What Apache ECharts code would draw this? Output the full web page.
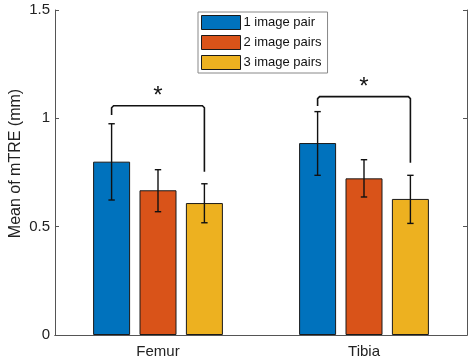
<!DOCTYPE html>
<html><head><meta charset="utf-8">
<script src="https://cdn.jsdelivr.net/npm/echarts@6/dist/echarts.min.js"></script>
<style>html,body{margin:0;padding:0;background:#fff}#c{width:474px;height:364px}</style>
</head><body><div id="c"></div>
<script>
const categories = ['Femur', 'Tibia'];
const seriesNames = ['1 image pair', '2 image pairs', '3 image pairs'];
const pair1 = [0.800, 0.886];
const pair2 = [0.668, 0.723];
const pair3 = [0.609, 0.628];
const pair1Low = [0.623, 0.737], pair1High = [0.975, 1.031];
const pair2Low = [0.569, 0.637], pair2High = [0.763, 0.809];
const pair3Low = [0.518, 0.515], pair3High = [0.698, 0.737];
const bracketTop = [1.058, 1.100];
const bracketLeftEnd = [1.015, 1.057];
const bracketRightEnd = [0.754, 0.795];
const starLabel = ['*', '*'];
const yTicks = [0, 0.5, 1, 1.5];

const colors = ['#0072BD', '#D95319', '#EDB120'];
const BAR_W = 37, GAP = 9.4, STEP = BAR_W + GAP;
const FONT = 'Liberation Sans, Arial, Helvetica, sans-serif';
const axisCol = '#555';

const values = [pair1, pair2, pair3];
const lows = [pair1Low, pair2Low, pair3Low];
const highs = [pair1High, pair2High, pair3High];

const barSeries = values.map((v, i) => ({
  name: seriesNames[i], type: 'bar', data: v, barWidth: BAR_W, barGap: (GAP / BAR_W * 100) + '%',
  itemStyle: { color: colors[i], borderColor: '#1a1a1a', borderWidth: 1 },
  emphasis: { disabled: true }, z: 2
}));

const errSeries = values.map((v, i) => ({
  type: 'custom', silent: true, z: 5,
  data: categories.map((c, k) => [k, lows[i][k], highs[i][k]]),
  renderItem: function (params, api) {
    const lo = api.coord([api.value(0), api.value(1)]);
    const hi = api.coord([api.value(0), api.value(2)]);
    const x = lo[0] + (i - 1) * STEP;
    const cap = 3.2;
    const st = { stroke: '#111', lineWidth: 1.4, fill: null };
    return { type: 'group', children: [
      { type: 'line', shape: { x1: x, y1: lo[1], x2: x, y2: hi[1] }, style: st },
      { type: 'line', shape: { x1: x - cap, y1: lo[1], x2: x + cap, y2: lo[1] }, style: st },
      { type: 'line', shape: { x1: x - cap, y1: hi[1], x2: x + cap, y2: hi[1] }, style: st }
    ]};
  }
}));

const bracketSeries = {
  type: 'custom', silent: true, z: 6,
  data: categories.map((c, k) => [k, bracketTop[k], bracketLeftEnd[k], bracketRightEnd[k]]),
  renderItem: function (params, api) {
    const k = api.value(0);
    const top = api.coord([k, api.value(1)]);
    const le = api.coord([k, api.value(2)]);
    const re = api.coord([k, api.value(3)]);
    const xl = top[0] - STEP, xr = top[0] + STEP;
    const r = 2;
    return { type: 'group', children: [
      { type: 'polyline', shape: { points: [[xl, le[1]], [xl, top[1] + r], [xl + r, top[1]], [xr - r, top[1]], [xr, top[1] + r], [xr, re[1]]] },
        style: { stroke: '#111', lineWidth: 1.6, fill: null } },
      { type: 'text', style: { text: starLabel[k], x: top[0], y: top[1] + 3, align: 'center', verticalAlign: 'bottom',
        font: '24px ' + FONT, fill: '#111' } }
    ]};
  }
};

const chart = echarts.init(document.getElementById('c'), null, { renderer: 'canvas' });
chart.setOption({
  animation: false,
  textStyle: { fontFamily: FONT },
  grid: { left: 55, right: 7, top: 10, bottom: 29, containLabel: false, outerBoundsMode: 'none' },
  legend: {
    data: seriesNames, orient: 'vertical', left: 198, top: 12,
    icon: 'rect',
    itemWidth: 39, itemHeight: 14, itemGap: 5,
    itemStyle: { borderColor: '#1a1a1a', borderWidth: 1 },
    padding: [3, 6, 3, 3], borderColor: '#888', borderWidth: 1, backgroundColor: '#fff',
    textStyle: { fontSize: 13, color: '#111', padding: [0, 0, 0, -2] },
    selectedMode: false
  },
  xAxis: [
    { type: 'category', data: categories, position: 'bottom',
      axisLine: { lineStyle: { color: axisCol, width: 1 } },
      axisTick: { inside: true, length: 4, alignWithLabel: true, lineStyle: { color: axisCol } },
      axisLabel: { fontSize: 15, color: '#222', margin: 9 } },
    { type: 'category', data: categories, position: 'top',
      axisLine: { lineStyle: { color: axisCol, width: 1 } },
      axisTick: { inside: true, length: 4, alignWithLabel: true, lineStyle: { color: axisCol } },
      axisLabel: { show: false } }
  ],
  yAxis: [
    { type: 'value', min: yTicks[0], max: yTicks[yTicks.length - 1], interval: 0.5, position: 'left',
      name: 'Mean of mTRE (mm)', nameLocation: 'middle', nameGap: 31, nameMoveOverlap: false,
      nameTextStyle: { fontSize: 16, color: '#222', padding: [0, 0, 0, 18] },
      axisLine: { show: true, lineStyle: { color: axisCol, width: 1 } },
      axisTick: { show: true, inside: true, length: 4, lineStyle: { color: axisCol } },
      axisLabel: { fontSize: 15, color: '#222', margin: 5 },
      splitLine: { show: false } },
    { type: 'value', min: yTicks[0], max: yTicks[yTicks.length - 1], interval: 0.5, position: 'right',
      axisLine: { show: true, lineStyle: { color: axisCol, width: 1 } },
      axisTick: { show: true, inside: true, length: 4, lineStyle: { color: axisCol } },
      axisLabel: { show: false }, splitLine: { show: false } }
  ],
  series: [...barSeries, ...errSeries, bracketSeries]
});
</script></body></html>
